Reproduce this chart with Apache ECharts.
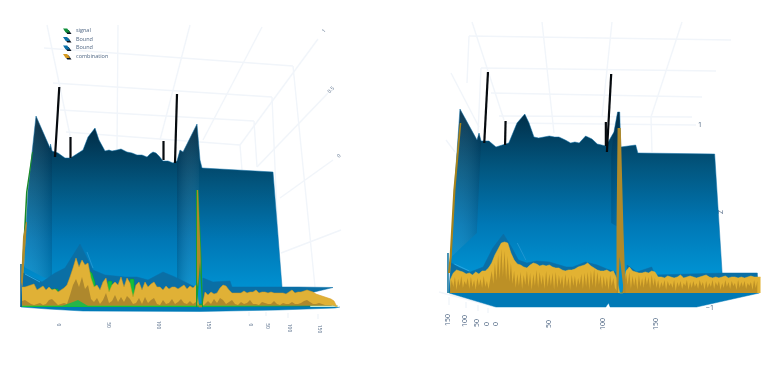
<!DOCTYPE html>
<html>
<head>
<meta charset="utf-8">
<style>html,body{margin:0;background:#fff}#chart{width:778px;height:377px}</style>
<script src="https://cdn.jsdelivr.net/npm/echarts@6/dist/echarts.min.js"></script>
</head>
<body>
<div id="chart"></div>
<script>
//axis ticks
const xTicks = [0,50,100,150];
const leftDepthTicks = ['0','50','100','150'];
const leftZTicks = ['1','0.5','0'];
const rightDepthTicks = ['150','100','50','0'];
const rightZTicks = ['1','\u22121'];

//left scene, [x, level]
const leftBound = [[-37,0],[-34,40],[-30,117],[-22,191],[-8,159],[-7.5,163],[-6,156],[0,154],[7,149],[12.5,149],[14,150],[25,157],[30,170],[37,179],[41,167],[47,156],[51,157],[54,156],[59,157],[63,158],[69,155],[74,154],[79,152],[84,152],[89,150],[92,153],[95,155],[98,154],[101,151],[105,146],[110,146],[115,144],[119,146],[122,157],[125,155],[139,183],[140,182],[142,147],[144,139],[215,135],[224,20],[224,0]];
const leftLowerBound = [[-37,0],[-35,34],[-16,25],[-3,34],[7,39],[12,47],[22,63],[29,49],[35,37],[47,32],[67,30],[79,30],[90,27],[105,35],[117,30],[137,20],[141,0],[144,0],[145,29],[155,25],[172,26],[174,20],[240,20],[275,19.5],[252,14],[252,0]];
const leftFloor = [[-37,0],[-10,-2],[25,-4],[142,-4.5],[220,-3],[277,-1],[282,0]];
const leftSignal = [[-36,3],[-8,3],[-7,18],[0,18],[1,3],[29,3],[30,37],[34,34],[37,25],[38,3],[48,3],[50,26],[54,26],[55,3],[71,3],[72,28],[76,28],[77,3],[140,3],[280,1]];
const leftCombination = [20,20,21,22,23,17,19,21,17,20,17,18,15,17,19,22,30,39,49,40,47,42,44,29,20,22,17,25,29,15,22,25,22,30,20,29,24,10,22,25,17,25,20,23,25,20,20,17,21,18,20,20,18,20,22,18,21,19,22,0,0,15,12,15,13,14,19,22,21,17,14,14,14,14,16,14,15,15,17,14,15,15,14,15,14,14,14,14,13,15,17,14,15,15,16,17,16,15,13,12,11,10,9,8,6,0];
const leftCombinationDark = [6,7,5,3,2,3,4,2,3,7,8,5,2,3,4,3,12,22,28,20,30,18,22,8,5,9,3,7,14,4,6,12,5,10,5,11,8,3,4,9,3,10,4,7,9,3,2,7,3,4,8,3,5,8,4,3,6,3,5,0,0,3,6,3,8,4,9,7,3,5,7,3,2,5,3,4,7,3,3,2,5,4,3,3,6,3,2,4,3,3,5,3,3,4,6,7,5,3,3,4,3,2,2,2,1,0];
const leftSpikes = [[[-3,150],[1.3,220]],[[12.5,149],[12.5,170]],[[105.5,147],[105.5,166]],[[117,144],[119,213]]];
const leftSideWall = [[-34,40],[-30,117],[-22,191],[-8,159],[-6,156],[-6,30],[-12,29],[-15,30]];
const leftFoldWall = [[119,146],[122,157],[125,155],[139,183],[140,182],[141,150],[141,20],[119,20]];
const leftSignalEdge = [[-26,155],[-25,155],[-30.5,115],[-34,45],[-35,30],[-36,40],[-32,115]];
const leftCombinationEdge = [[-32,85],[-31,85],[-34.5,35],[-35.5,20],[-37,25],[-35,70]];
const leftSignalPeak = [[138,117],[140.5,117],[143.5,50],[145,0],[144,0],[142,39],[139,0],[138,0]];
const leftCombinationPeak = [[139,117],[140,117],[142.5,55],[143,30],[142,45],[140,20],[139,25]];
const leftSignalMound = [[4,1],[15,5],[20,7],[25,4],[30,1]];

//right scene, [x, level]
const rightBound = [[-44,0],[-42,36],[-39,103],[-33.75,184],[-17.8,153],[-15.9,160],[-14,152],[-6.6,152],[0,146],[12,150],[19.7,170],[27,179],[31,170],[35.6,156],[40,155],[45,156],[50,157],[55,156],[59,156],[65,153],[70,150],[74,151],[78,150],[84,157],[90,154],[95,149],[99,148],[103,147],[110.6,161],[114,181],[116,181],[117,146],[124,147],[131,148],[133,140],[205,139],[212,20],[212,0]];
const rightLowerBound = [[-44,0],[-42,30],[-34,25],[-24,21],[-12,26],[-3,45],[7,59],[15,45],[21,33],[29,30],[38,32],[50,31],[66,26],[72,26],[84,31],[95,28],[104,24],[112,21],[113,0],[122,0],[123,28],[132,21],[146,26],[149,18],[213,20],[245,20],[246,0]];
const rightFloor = [[-44,0],[0,-14],[103,-14],[105.5,-10],[107,-14],[188,-14],[247,0]];
const rightCombination = [13,20,23,22,21,19,20,18,21,19,22,22,25,30,38,44,50,51,50,40,33,29,28,26,25,28,30,29,27,28,27,28,26,25,25,23,22,23,23,24,26,27,28,30,27,25,23,22,22,23,21,22,15,0,0,22,26,22,21,20,20,21,20,22,21,16,16,15,17,16,15,16,18,15,16,17,16,15,16,17,18,16,15,16,15,16,17,15,16,16,15,16,15,16,17,16,16,16];
const rightCombinationDark = [4,13,6,16,3,14,7,17,5,12,8,15,4,16,6,13,3,15,7,14,5,17,6,12,4,6,22,9,30,12,38,14,44,16,42,13,37,11,30,9,22,5,19,7,21,4,18,8,22,6,20,3,19,7,23,5,21,8,18,4,22,6,19,7,20,3,21,5,18,8,17,4,19,6,16,3,18,7,17,5,15,8,19,4,20,6,21,3,22,7,24,5,21,8,18,4,17,6,16,3,18,7,15,5,3,0,0,0,4,6,19,8,21,4,17,7,16,3,18,6,15,5,17,8,16,4,18,7,15,5,13,4,11,6,13,3,12,7,10,5,13,2,11,6,12,4,10,7,13,3,11,5,12,6,10,4,13,7,11,3,12,5,10,6,13,4,11,7,12,3,10,5,13,6,11,4,12,7,10,3,13,5,11,6,12,4,10,7,11,3,13,5,12];
const rightSpikes = [[[-11,150],[-7.5,221]],[[8.5,148],[9,172]],[[103,147],[103,171]],[[104,141],[108,219]]];
const rightSideWall = [[-42,36],[-39,103],[-33.75,184],[-17.8,153],[-15.9,160],[-14,152],[-18,60],[-42,36]];
const rightFoldWall = [[108,140],[110.6,161],[114,181],[116,181],[116,65],[108,70]];
const rightCombinationEdge = [[-34,170],[-32.5,170],[-38,103],[-41.5,36],[-43,20],[-45,20],[-43.5,36],[-40,103]];
const rightCombinationPeak = [[114,165],[117,165],[119.5,63],[121.5,0],[120,0],[116,36],[114.5,0],[113,0],[113,63]];
const rightSignalFloor = [[-44,0.5],[246,0.5]];

const BOUND_DARK = '#0a6fa8';
const SIGNAL_GREEN = '#12bf3c';
const GOLD = '#e0b136';
const FAINT = '#f1f5fa';
const TICK_TEXT = '#506784';

function wallFill(y1, y2){
	return {type:'linear',x:0,y:y1,x2:0,y2:y2,global:true,colorStops:[
		{offset:0,color:'#012c45'},
		{offset:0.35,color:'#02567f'},
		{offset:0.7,color:'#0078b6'},
		{offset:1,color:'#0092d2'}
	]};
}

function sideFill(c1, c2){
	return new echarts.graphic.LinearGradient(0,0,1,0,[{offset:0,color:c1},{offset:1,color:c2}]);
}

function area(name, grid, data, fill, color, origin){
	return {
		type:'line',name:name,xAxisIndex:grid,yAxisIndex:grid,data:data,
		showSymbol:false,symbol:'none',silent:true,animation:false,
		lineStyle:{width:0.5,color:color},
		itemStyle:{color:color},
		areaStyle:{color:fill,opacity:1,origin:origin===undefined?0:origin}
	};
}

function stroke(grid, data, color, width){
	return {
		type:'line',xAxisIndex:grid,yAxisIndex:grid,data:data,
		showSymbol:false,symbol:'none',silent:true,animation:false,
		lineStyle:{width:width,color:color}
	};
}

function shape(grid, pts, fill){
	return {
		type:'custom',xAxisIndex:grid,yAxisIndex:grid,data:pts,silent:true,animation:false,
		renderItem(params, api){
			if(params.dataIndex!==0) return null;
			return {type:'polygon',shape:{points:pts.map(p=>api.coord(p))},style:{fill:fill}};
		}
	};
}

//regular sampling along x
function sampled(start, step, levels){
	return levels.map((v,i)=>[start+i*step,v]);
}

function gridLine(x1,y1,x2,y2){
	return {type:'line',z:0,silent:true,shape:{x1,y1,x2,y2},style:{stroke:FAINT,lineWidth:1.4}};
}

function tickText(text,x,y,size,rotation){
	return {type:'text',z:1,silent:true,x:x,y:y,rotation:rotation,style:{text:text,fill:TICK_TEXT,font:size+'px "Open Sans"',align:'center',verticalAlign:'middle'}};
}

const lines = [
	//left scene
	[44,48,293,66],[53,83,272,97],[60,110,254,121],[66,132,240,145],
	[47,25,71,140],[118,25,117,150],[190,25,160,140],[262,27,203,140],
	[293,66,315,287],[272,97,280,285],[254,121,257,167],[240,145,242,170],
	[318,39,240,145],[328,93,257,167],[333,160,280,198],[341,230,281,253],
	//left depth ticks
	[249,312,249,316],[266,312,266,316],[288,313,288,318],[318,314,318,319],
	//right scene
	[469,36,731,40],[481,68,716,71],[491,93,702,97],[499,116,692,117],[504,123,696,125],
	[472,22,504,120],[542,22,554,133],[612,22,602,117],[682,22,651,117],[651,117,652,152],
	[469,36,467,83],[481,68,478,133],[451,73,479,127],[446,140,455,152],
	[439,292,495,307],
	[449,297,449,305],[466,302,466,308],[478,305,478,311],[488,308,488,313]
].map(l=>gridLine(l[0],l[1],l[2],l[3]));

const labels = [
	tickText(leftZTicks[0],324,31,5,Math.PI/4),
	tickText(leftZTicks[1],331,90,5,Math.PI/4),
	tickText(leftZTicks[2],339,156,5,Math.PI/4),
	tickText(leftDepthTicks[0],250,325,5,-Math.PI/2),
	tickText(leftDepthTicks[1],267,326,5,-Math.PI/2),
	tickText(leftDepthTicks[2],289,328,5,-Math.PI/2),
	tickText(leftDepthTicks[3],319,329,5,-Math.PI/2),
	tickText(rightDepthTicks[0],448,320,7,Math.PI/2),
	tickText(rightDepthTicks[1],465,321,7,Math.PI/2),
	tickText(rightDepthTicks[2],477,323,7,Math.PI/2),
	tickText(rightDepthTicks[3],487,324,7,Math.PI/2),
	tickText(rightZTicks[0],700,125,7,0),
	tickText(rightZTicks[1],710,308,7,0),
	tickText('Z',720,212,7,-Math.PI/2)
];

const series = [
	//left scene
	area('Bound',0,leftBound,wallFill(128,290),BOUND_DARK),
	shape(0,leftSideWall,sideFill('rgba(255,255,255,0.08)','rgba(0,30,60,0.18)')),
	shape(0,leftFoldWall,sideFill('rgba(0,30,60,0.22)','rgba(255,255,255,0.03)')),
	area('Bound ',0,leftLowerBound,'#0a6fa5',BOUND_DARK),
	stroke(0,[[-33,33],[-18,25]],'#2aa6e2',1),
	stroke(0,[[29,55],[35,39]],'#1f96d2',1),
	area('bound floor',0,leftFloor,'#007ab8','#007ab8',0),
	stroke(0,[[-37,0],[-37,43]],'#0b5c85',1.5),
	shape(0,leftSignalEdge,'#1a8a2a'),
	shape(0,leftCombinationEdge,'#b08a2a'),
	area('signal',0,leftSignal,SIGNAL_GREEN,'#0f8f3a'),
	area('combination',0,sampled(-36,3,leftCombination),GOLD,'#d79a1e',1.5),
	area('combination dark',0,sampled(-36,3,leftCombinationDark),'rgba(140,108,40,0.6)','rgba(140,108,40,0)',1.5),
	shape(0,leftSignalMound,'#26b54a'),
	shape(0,leftSignalPeak,'#1a9a35'),
	shape(0,leftCombinationPeak,'#b08a2a'),
	//right scene
	area('Bound right',1,rightBound,wallFill(110,273),BOUND_DARK),
	shape(1,rightSideWall,sideFill('rgba(255,255,255,0.06)','rgba(0,30,60,0.2)')),
	shape(1,rightFoldWall,sideFill('rgba(0,30,60,0.2)','rgba(0,30,60,0.08)')),
	area('Bound right lower',1,rightLowerBound,'#0a6fa5',BOUND_DARK),
	stroke(1,[[-39,29],[-25,22]],'#2aa6e2',1),
	stroke(1,[[20,50],[28,33]],'#1f96d2',1),
	area('floor right',1,rightFloor,'#0079b6','#0079b6',0),
	stroke(1,[[-45,0],[-45,40]],'#0a6f9c',1.5),
	shape(1,rightCombinationEdge,'#a8841c'),
	stroke(1,rightSignalFloor,'rgba(60,170,60,0.6)',0.8),
	area('combination right',1,sampled(-43,3,rightCombination),'#e2b232','#e6b636',0),
	area('combination right dark',1,sampled(-43,1.5,rightCombinationDark),'rgba(150,110,25,0.5)','rgba(150,110,25,0)',0),
	shape(1,rightCombinationPeak,'#b08a2a')
];
series.forEach((s,i)=>{s.z=i+2;});
//black spikes stay above the wall but behind the low layers
leftSpikes.forEach(d=>series.push(Object.assign(stroke(0,d,'#060a0e',2.2),{z:3})));
rightSpikes.forEach(d=>series.push(Object.assign(stroke(1,d,'#060a0e',2.2),{z:19})));

const option = {
	backgroundColor:'#fff',
	animation:false,
	textStyle:{fontFamily:'"Open Sans"'},
	grid:[
		{left:8,width:360,top:10,height:307},
		{left:442.65,width:320,top:10,height:304}
	],
	xAxis:[
		{type:'value',gridIndex:0,min:-50,max:310,splitLine:{show:false},axisLine:{show:false},
			axisTick:{show:true,inside:true,length:5,customValues:xTicks,lineStyle:{color:FAINT}},
			axisLabel:{customValues:xTicks,rotate:-90,align:'center',verticalAlign:'middle',margin:8,fontSize:5,color:TICK_TEXT}},
		{type:'value',gridIndex:1,min:-50,max:250,splitLine:{show:false},axisLine:{show:false},
			axisTick:{show:true,inside:true,length:5,customValues:xTicks,lineStyle:{color:FAINT}},
			axisLabel:{customValues:xTicks,rotate:90,align:'center',verticalAlign:'middle',margin:10,fontSize:7,color:TICK_TEXT}}
	],
	yAxis:[
		{type:'value',gridIndex:0,min:-10,max:297,show:false},
		{type:'value',gridIndex:1,min:-21,max:283,show:false}
	],
	legend:{
		show:true,orient:'vertical',left:63,top:27.5,padding:0,itemGap:2.5,itemWidth:7,itemHeight:5.5,selectedMode:false,
		data:['signal','Bound','Bound ','combination'],
		icon:'path://M0 0L6 0L10 6L4 6Z',
		itemStyle:{shadowColor:'#0a1420',shadowOffsetX:1.5,shadowOffsetY:1.5,shadowBlur:0},
		textStyle:{fontSize:5.5,color:TICK_TEXT,padding:[0,0,0,1]}
	},
	graphic:{elements:lines.concat(labels)},
	series:series
};

const myChart = echarts.init(document.getElementById('chart'));
myChart.setOption(option);
window.addEventListener("resize", function() {
	myChart.resize();
});
</script>
</body>
</html>
